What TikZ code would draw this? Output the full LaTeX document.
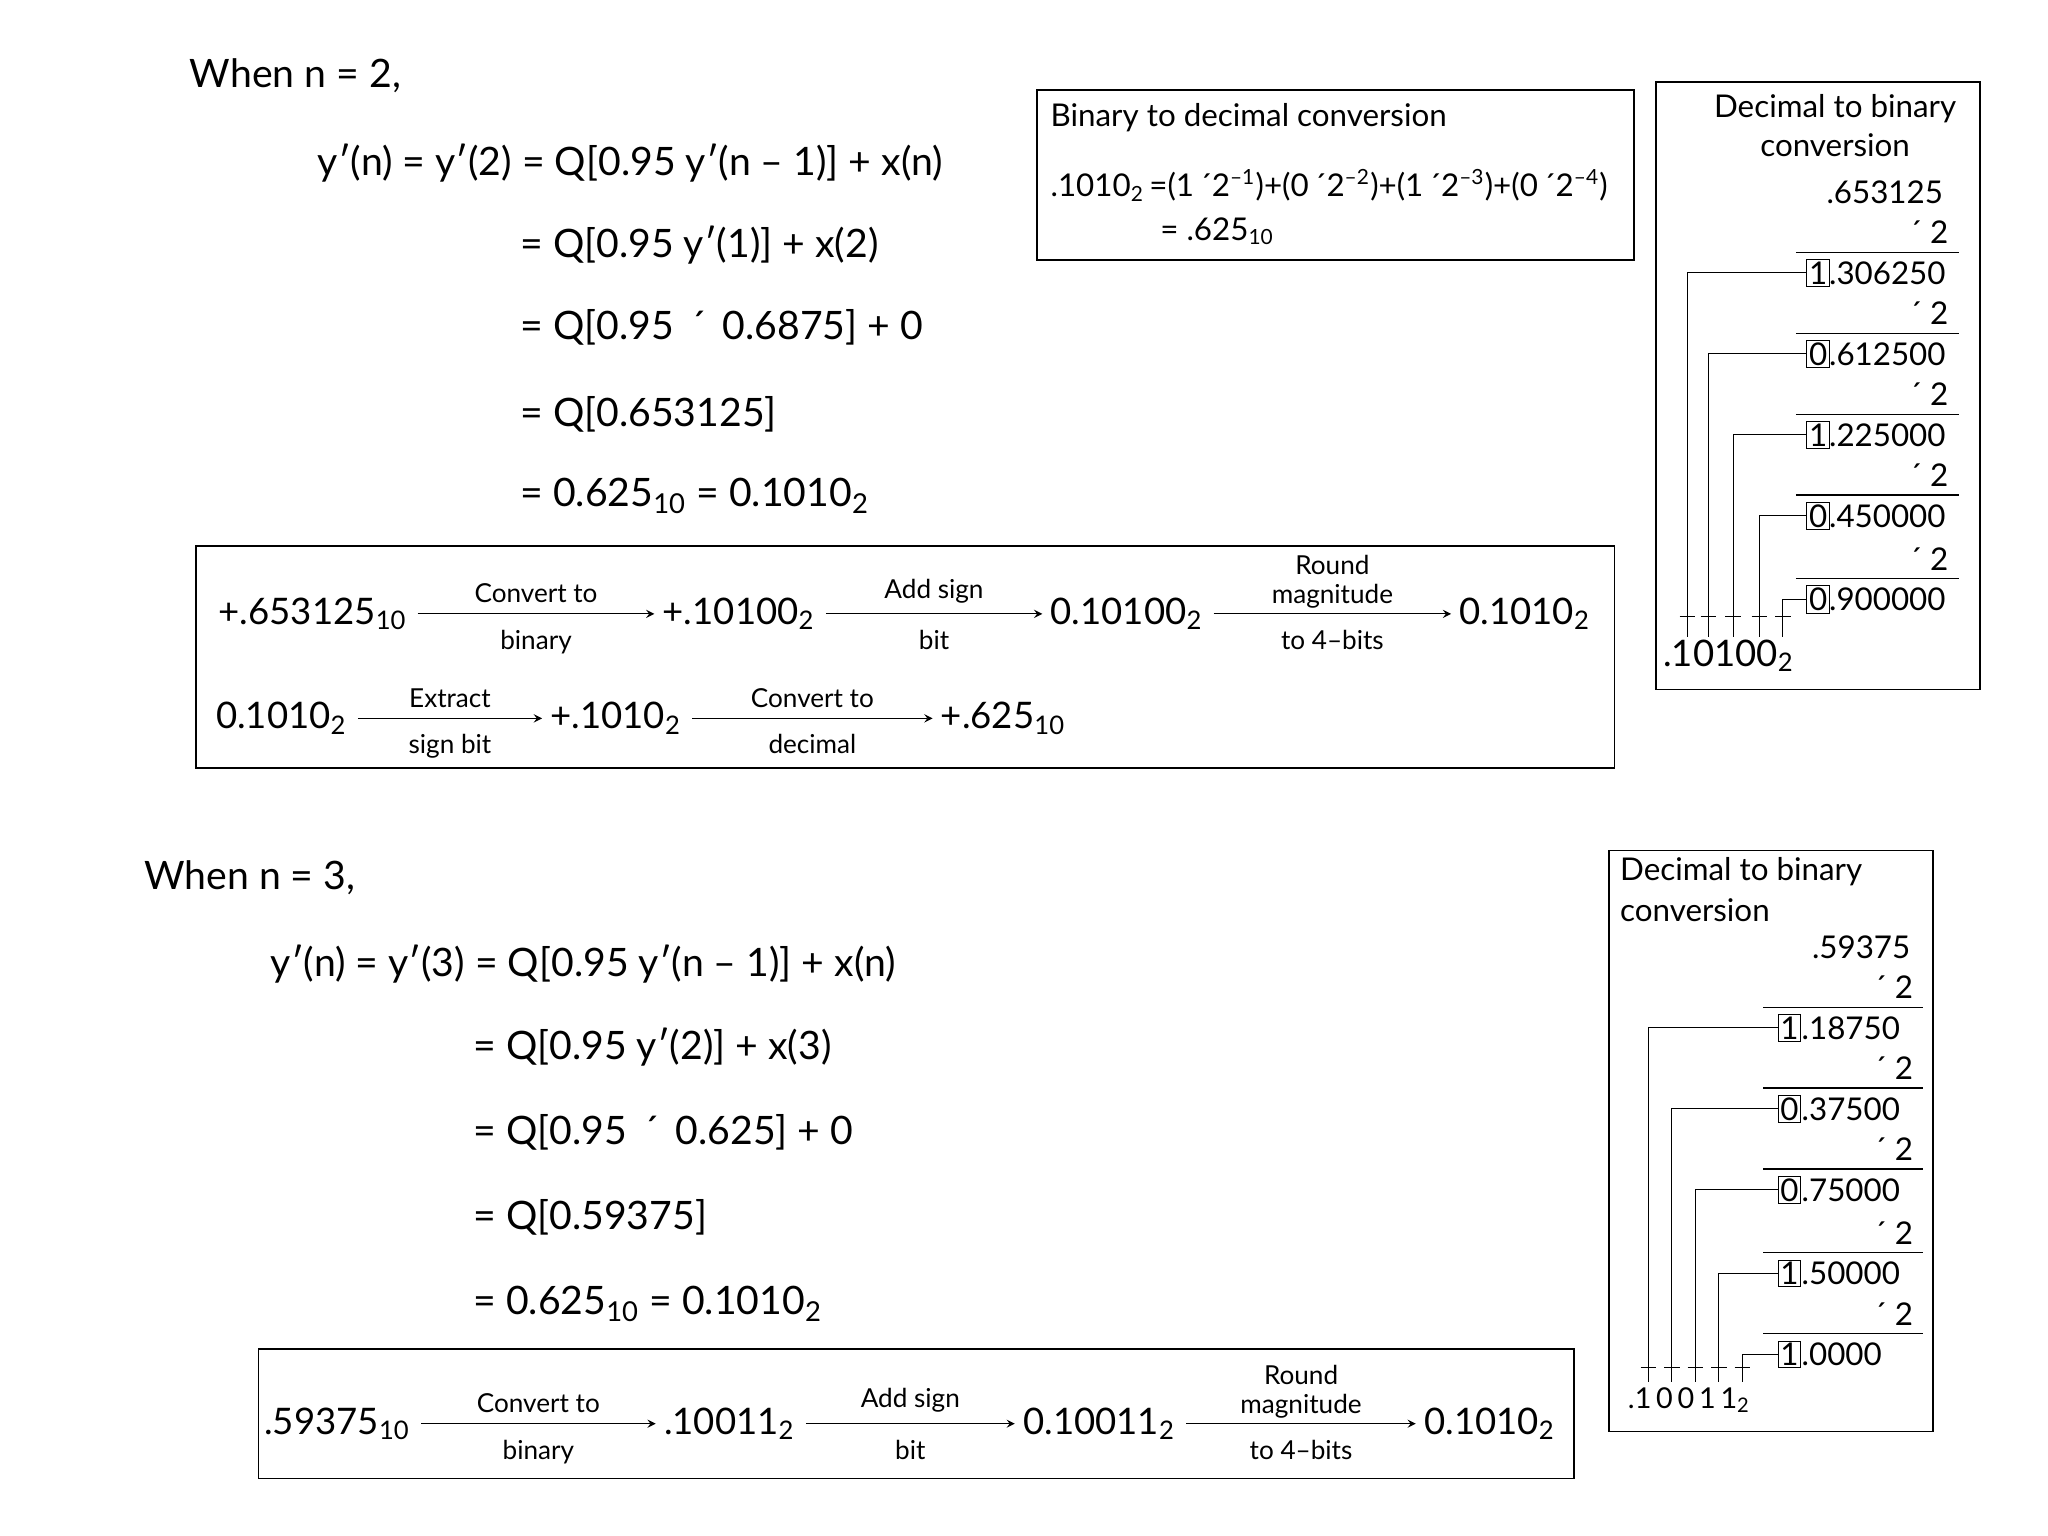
\documentclass[tikz,border=0pt]{standalone}
\usepackage{fontspec}
\setmainfont{Lato}
\newcommand{\sbs}[1]{\textsubscript{#1}}
\begin{document}
\begin{tikzpicture}[x=0.5pt,y=-0.5pt,
  eq/.style={anchor=west,font=\fontsize{15}{17}\selectfont,inner sep=0pt},
  num/.style={anchor=west,font=\fontsize{14}{16}\selectfont,inner sep=1pt},
  lab/.style={font=\fontsize{10}{11}\selectfont,inner sep=2pt},
  la/.style={lab,above=2pt},
  lr/.style={lab,above=0pt,align=center},
  lb/.style={lab,below=4pt},
  sm/.style={anchor=west,font=\fontsize{12}{14}\selectfont,inner sep=0pt},
  bx/.style={draw,line width=0.6pt},
  dig/.style={draw,inner sep=0.8pt,font=\fontsize{12}{14}\selectfont},
  arr/.style={->,line width=0.4pt,>=stealth}]
\useasboundingbox (0,0) rectangle (1568,1176);
% ---- n=2 equations
\node[eq] (w2) at (145,58) {When n = 2,};
\node[eq] (e21) at (243,125) {y′(n) = y′(2) = Q[0.95 y′(n – 1)] + x(n)};
\node[eq] (e22) at (398,188) {= Q[0.95 y′(1)] + x(2)};
\node[eq] (e23) at (398,251) {= Q[0.95 \,´\, 0.6875] + 0};
\node[eq] (e24) at (398,317) {= Q[0.653125]};
\node[eq] (e25) at (398,380) {= 0.625\sbs{10} = 0.1010\sbs{2}};
% box 1
\draw[bx] (150,418) rectangle (1236,588);
\node[num] (a1) at (165,470) {+.653125\sbs{10}};
\node[num] (a2) at (505,470) {+.10100\sbs{2}};
\node[num] (a3) at (802,470) {0.10100\sbs{2}};
\node[num] (a4) at (1115,470) {0.1010\sbs{2}};
\draw[arr] (a1.east)++(6,0) -- ([xshift=-2]a2.west) node[midway,la]{Convert to} node[midway,lb]{binary};
\draw[arr] (a2.east)++(6,0) -- ([xshift=-2]a3.west) node[midway,la]{Add sign} node[midway,lb]{bit};
\draw[arr] (a3.east)++(6,0) -- ([xshift=-2]a4.west) node[midway,lr]{Round\\magnitude} node[midway,lb]{to 4–bits};
\node[num] (b1) at (163,550) {0.1010\sbs{2}};
\node[num] (b2) at (419,550) {+.1010\sbs{2}};
\node[num] (b3) at (718,550) {+.625\sbs{10}};
\draw[arr] (b1.east)++(6,0) -- ([xshift=-2]b2.west) node[midway,la]{Extract} node[midway,lb]{sign bit};
\draw[arr] (b2.east)++(6,0) -- ([xshift=-2]b3.west) node[midway,la]{Convert to} node[midway,lb]{decimal};
% binary to decimal box
\draw[bx] (794,69) rectangle (1251,199);
\node[sm] (bd1) at (804,90) {Binary to decimal conversion};
\node[sm] (bd2) at (804,142) {.1010\sbs{2}\,=(1\,´2\textsuperscript{–1})+(0\,´2\textsuperscript{–2})+(1\,´2\textsuperscript{–3})+(0\,´2\textsuperscript{–4})};
\node[sm] (bd3) at (888,177) {= .625\sbs{10}};
% decimal to binary box 1
\draw[bx] (1268,63) rectangle (1516,528);
\node[font=\fontsize{12}{15}\selectfont,align=center] (t1) at (1405,96) {Decimal to binary\\conversion};
\node[anchor=east,font=\fontsize{12}{14}\selectfont,inner sep=0pt] (s0) at (1488,147) {.653125};
\foreach \y/\d/\r/\xv in {209/1/.306250/1292,271/0/.612500/1308,333/1/.225000/1327,395/0/.450000/1347,459/0/.900000/1365}{
  \node[anchor=east,font=\fontsize{12}{14}\selectfont,inner sep=0pt] at (1492,\y-31) {´ 2};
  \draw (1375,\y-16) -- (1500,\y-16);
  \node[dig] (d\y) at (1392,\y) {\d};
  \node[anchor=west,font=\fontsize{12}{14}\selectfont,inner sep=0pt] at (1400,\y) {\r};
  \draw (d\y.west) -- (\xv,\y) -- (\xv,488);
  \draw (\xv-6,472) -- (\xv+6,472);
}
\node[anchor=west,font=\fontsize{14}{16}\selectfont,inner sep=0pt] (r1) at (1273,502) {.10100\sbs{2}};
% ---- n=3 equations
\node[eq] (w3) at (110,672) {When n = 3,};
\node[eq] (e31) at (207,738) {y′(n) = y′(3) = Q[0.95 y′(n – 1)] + x(n)};
\node[eq] (e32) at (362,802) {= Q[0.95 y′(2)] + x(3)};
\node[eq] (e33) at (362,867) {= Q[0.95 \,´\, 0.625] + 0};
\node[eq] (e34) at (362,932) {= Q[0.59375]};
\node[eq] (e35) at (362,998) {= 0.625\sbs{10} = 0.1010\sbs{2}};
% box 3
\draw[bx] (198,1033) rectangle (1205,1132);
\node[num] (c1) at (200,1090) {.59375\sbs{10}};
\node[num] (c2) at (506,1090) {.10011\sbs{2}};
\node[num] (c3) at (781,1090) {0.10011\sbs{2}};
\node[num] (c4) at (1088,1090) {0.1010\sbs{2}};
\draw[arr] (c1.east)++(6,0) -- ([xshift=-2]c2.west) node[midway,la]{Convert to} node[midway,lb]{binary};
\draw[arr] (c2.east)++(6,0) -- ([xshift=-2]c3.west) node[midway,la]{Add sign} node[midway,lb]{bit};
\draw[arr] (c3.east)++(6,0) -- ([xshift=-2]c4.west) node[midway,lr]{Round\\magnitude} node[midway,lb]{to 4–bits};
% decimal to binary box 2
\draw[bx] (1232,651) rectangle (1480,1096);
\node[sm] (t2a) at (1240,667) {Decimal to binary};
\node[sm] (t2b) at (1240,697) {conversion};
\node[anchor=east,font=\fontsize{12}{14}\selectfont,inner sep=0pt] (s2) at (1463,725) {.59375};
\foreach \y/\d/\r/\xv in {787/1/.18750/1262,849/0/.37500/1280,911/0/.75000/1298,975/1/.50000/1316,1037/1/.0000/1334}{
  \node[anchor=east,font=\fontsize{12}{14}\selectfont,inner sep=0pt] at (1465,\y-31) {´ 2};
  \draw (1350,\y-16) -- (1472,\y-16);
  \node[dig] (f\y) at (1370,\y) {\d};
  \node[anchor=west,font=\fontsize{12}{14}\selectfont,inner sep=0pt] at (1379,\y) {\r};
  \draw (f\y.west) -- (\xv,\y) -- (\xv,1058);
  \draw (\xv-6,1047) -- (\xv+6,1047);
}
\node[anchor=west,font=\fontsize{11}{13}\selectfont,inner sep=0pt] (r2) at (1246,1072) {.1\,0\,0\,1\,1\sbs{2}};
\end{tikzpicture}
\end{document}
